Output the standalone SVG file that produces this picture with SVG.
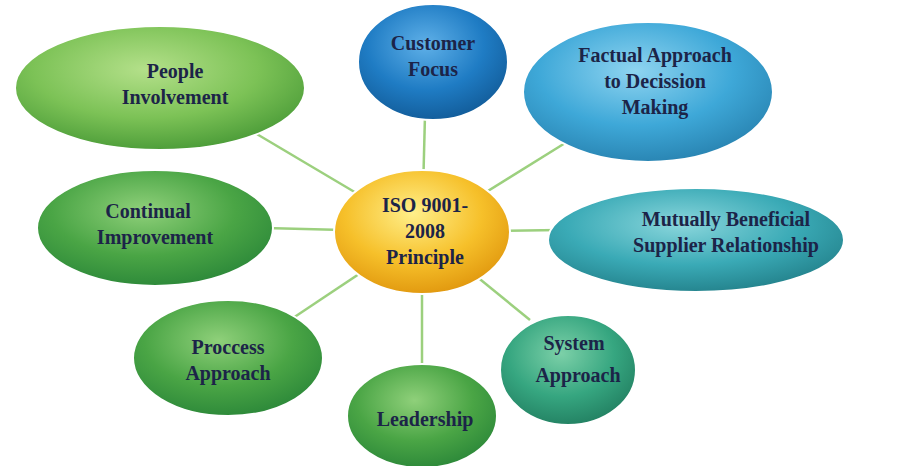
<svg xmlns="http://www.w3.org/2000/svg" width="918" height="466" viewBox="0 0 918 466">
<defs>
<radialGradient id="gG" cx="45%" cy="35%" r="65%"><stop offset="0" stop-color="#8fd07a"/><stop offset="0.6" stop-color="#4aa545"/><stop offset="1" stop-color="#2e8a3a"/></radialGradient>
<radialGradient id="gL" cx="45%" cy="35%" r="65%"><stop offset="0" stop-color="#b4e08a"/><stop offset="0.6" stop-color="#7cc256"/><stop offset="1" stop-color="#4e9e3a"/></radialGradient>
<radialGradient id="gB" cx="45%" cy="35%" r="65%"><stop offset="0" stop-color="#5fb0e8"/><stop offset="0.6" stop-color="#1f7cc4"/><stop offset="1" stop-color="#135e9c"/></radialGradient>
<radialGradient id="gS" cx="45%" cy="35%" r="65%"><stop offset="0" stop-color="#8fd4f0"/><stop offset="0.6" stop-color="#3ea8d8"/><stop offset="1" stop-color="#2a86b4"/></radialGradient>
<radialGradient id="gT" cx="45%" cy="35%" r="65%"><stop offset="0" stop-color="#8ad6dc"/><stop offset="0.6" stop-color="#3aaab6"/><stop offset="1" stop-color="#25858f"/></radialGradient>
<radialGradient id="gQ" cx="45%" cy="35%" r="65%"><stop offset="0" stop-color="#7cd0a8"/><stop offset="0.6" stop-color="#36a680"/><stop offset="1" stop-color="#248364"/></radialGradient>
<radialGradient id="gO" cx="45%" cy="35%" r="65%"><stop offset="0" stop-color="#ffef8a"/><stop offset="0.6" stop-color="#f6c02a"/><stop offset="1" stop-color="#e29a10"/></radialGradient>
</defs>
<style>
.n{stroke:#ffffff;stroke-width:2}
.t{font-family:"Liberation Serif",serif;font-weight:bold;font-size:20px;fill:#1c2448;text-anchor:middle}
.c{stroke:#9cd07e;stroke-width:2.5}
</style>
<rect width="918" height="466" fill="#ffffff"/>
<g id="connectors">
<line class="c" x1="422" y1="232" x2="425" y2="115"/>
<line class="c" x1="422" y1="232" x2="570" y2="140"/>
<line class="c" x1="422" y1="232" x2="560" y2="230"/>
<line class="c" x1="422" y1="232" x2="530" y2="320"/>
<line class="c" x1="422" y1="232" x2="422" y2="370"/>
<line class="c" x1="422" y1="232" x2="290" y2="320"/>
<line class="c" x1="422" y1="232" x2="265" y2="228"/>
<line class="c" x1="422" y1="232" x2="250" y2="130"/>
</g>
<g id="people"><ellipse class="n" cx="160" cy="88" rx="145" ry="62" fill="url(#gL)"/><text class="t" x="175" y="78">People</text><text class="t" x="175" y="104">Involvement</text></g>
<g id="customer"><ellipse class="n" cx="433" cy="62" rx="75" ry="58" fill="url(#gB)"/><text class="t" x="433" y="50">Customer</text><text class="t" x="433" y="76">Focus</text></g>
<g id="factual"><ellipse class="n" cx="648" cy="92" rx="125" ry="70" fill="url(#gS)"/><text class="t" x="655" y="62">Factual Approach</text><text class="t" x="655" y="88">to Decission</text><text class="t" x="655" y="114">Making</text></g>
<g id="continual"><ellipse class="n" cx="155" cy="228" rx="118" ry="58" fill="url(#gG)"/><text class="t" x="148" y="218">Continual</text><text class="t" x="155" y="244">Improvement</text></g>
<g id="mutual"><ellipse class="n" cx="696" cy="240" rx="148" ry="52" fill="url(#gT)"/><text class="t" x="726" y="226">Mutually Beneficial</text><text class="t" x="726" y="252">Supplier Relationship</text></g>
<g id="process"><ellipse class="n" cx="228" cy="358" rx="95" ry="58" fill="url(#gG)"/><text class="t" x="228" y="354">Proccess</text><text class="t" x="228" y="380">Approach</text></g>
<g id="system"><ellipse class="n" cx="568" cy="370" rx="68" ry="55" fill="url(#gQ)"/><text class="t" x="574" y="350">System</text><text class="t" x="578" y="382">Approach</text></g>
<g id="leadership"><ellipse class="n" cx="422" cy="416" rx="75" ry="52" fill="url(#gG)"/><text class="t" x="425" y="426">Leadership</text></g>
<g id="center"><ellipse class="n" cx="422" cy="232" rx="88" ry="62" fill="url(#gO)"/><text class="t" x="425" y="212">ISO 9001-</text><text class="t" x="425" y="238">2008</text><text class="t" x="425" y="264">Principle</text></g>
</svg>
